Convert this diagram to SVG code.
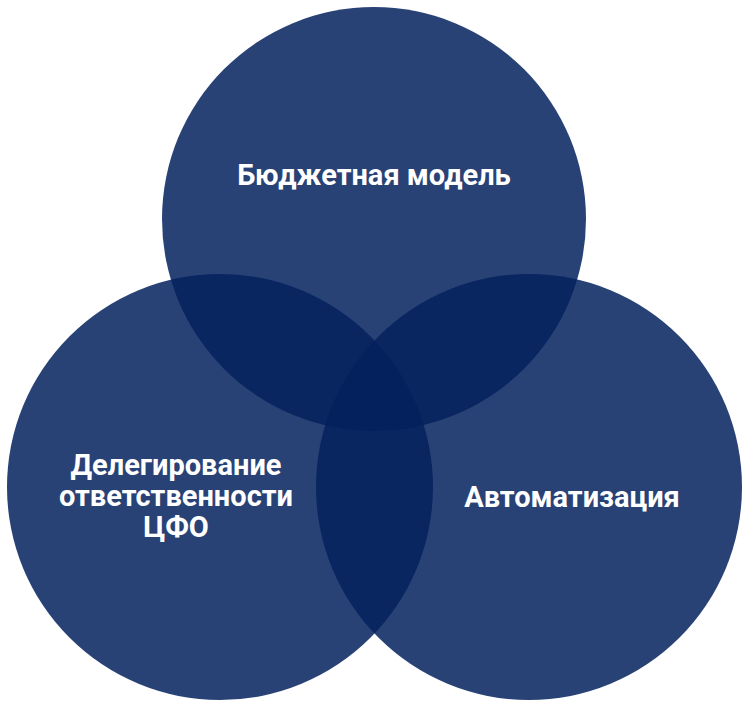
<svg xmlns="http://www.w3.org/2000/svg" width="750" height="705" viewBox="0 0 750 705">
<style>
.c{fill:#04215e;fill-opacity:0.85}
.t{font-family:Roboto,"Liberation Sans",sans-serif;font-weight:bold;fill:#ffffff;text-anchor:middle;font-size:29px}
</style>
<rect width="750" height="705" fill="#ffffff"/>
<g id="top"><circle class="c" cx="374" cy="219" r="212"/><text class="t" x="374" y="185">Бюджетная модель</text></g>
<g id="left"><circle class="c" cx="220" cy="487" r="213"/><text class="t" x="176" y="475">Делегирование</text><text class="t" x="176" y="506">ответственности</text><text class="t" x="176" y="537">ЦФО</text></g>
<g id="right"><circle class="c" cx="529" cy="487" r="213"/><text class="t" x="572" y="507">Автоматизация</text></g>
<g id="connectors"/>
</svg>
